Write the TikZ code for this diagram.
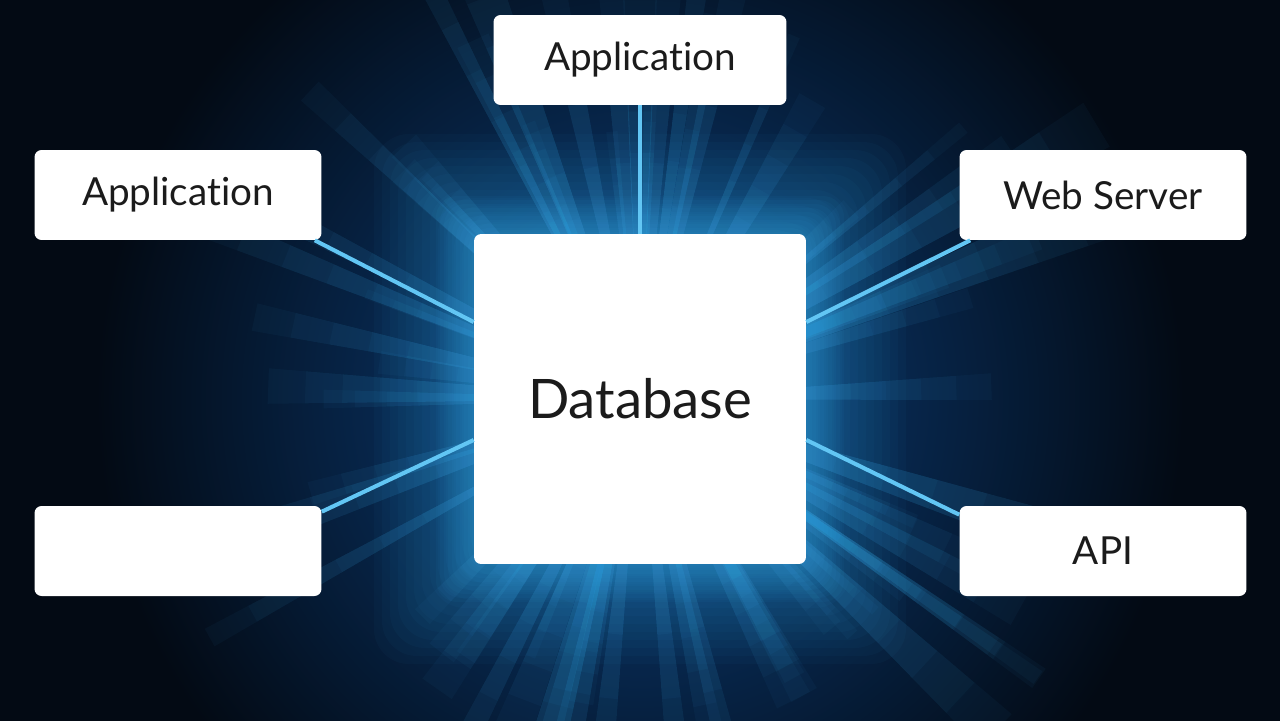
\documentclass[tikz,border=0pt]{standalone}
\usepackage{fontspec}
\setmainfont{Lato}[Ligatures=NoCommon]
\usetikzlibrary{positioning}

\definecolor{bgdark}{HTML}{030A14}
\definecolor{bgblue}{HTML}{0B4486}
\definecolor{raycol}{HTML}{3DB6F5}
\definecolor{linkcol}{HTML}{62C6F4}
\definecolor{txtcol}{HTML}{1B1B1B}
\pgfdeclareradialshading{bgglow}{\pgfpoint{0bp}{0bp}}{color(0bp)=(bgblue);
  color(7bp)=(bgblue!55!bgdark); color(17bp)=(bgdark); color(50bp)=(bgdark)}

\tikzset{
  card/.style={fill=white, rounded corners=4pt, text=txtcol, inner sep=0pt,
    minimum width=5.74cm, minimum height=1.8cm, font=\fontsize{22}{26}\selectfont},
  dbcard/.style={card, minimum width=6.64cm, minimum height=6.6cm,
    font=\fontsize{31}{36}\selectfont},
  link/.style={linkcol, line width=2.3pt},
}

\begin{document}
\begin{tikzpicture}[x=0.02cm, y=-0.02cm]
  \useasboundingbox (0,0) rectangle (1280,720);
  \fill[bgdark] (0,0) rectangle (1280,720);
  \begin{scope}
    \clip (0,0) rectangle (1280,720);
    \shade[shading=bgglow] (640,399) circle (800);
    % rays
    \pgfmathsetseed{11}
    \foreach \i in {1,...,60}{
      \pgfmathsetmacro\ang{random(0,359)}
      \pgfmathsetmacro\wid{0.8+2.4*rnd}
      \pgfmathsetmacro\len{260+280*rnd}
      \foreach \f in {1,.9,...,.3}
        \fill[raycol, opacity=.04] (640,399) -- +(\ang-\wid:\len*\f) -- +(\ang+\wid:\len*\f) -- cycle;
    }
    \foreach \ang in {76,84,96,105,258,266,274,283}
      \foreach \f in {1,.85,...,.3}
        \fill[raycol, opacity=.045] (640,399) -- +(\ang-1.8:430*\f) -- +(\ang+1.8:430*\f) -- cycle;
    % glow round the database
    \foreach \g in {4,12,...,100}
      \fill[raycol, opacity=.03, rounded corners=20pt] (474-\g,234-\g) rectangle (806+\g,564+\g);
    \foreach \g in {2,6,...,40}
      \fill[raycol, opacity=.045, rounded corners=12pt] (474-\g,234-\g) rectangle (806+\g,564+\g);
  \end{scope}

  \node[dbcard] (db) at (640,399) {Database};
  \node[card, minimum width=5.86cm] (apptop) at (640,60) {Application};
  \node[card] (appleft) at (178,195) {Application};
  \node[card] (web) at (1103,195) {Web Server};
  \node[card] (blank) at (178,551) {};
  \node[card] (api) at (1103,551) {API};

  \draw[link] (apptop.south) -- (db.north);
  \draw[link] ([xshift=-0.14cm]appleft.south east) -- ([yshift=1.54cm]db.west);
  \draw[link] ([xshift=0.22cm]web.south west) -- ([yshift=1.54cm]db.east);
  \draw[link] ([yshift=-0.12cm]blank.north east) -- ([yshift=-0.82cm]db.west);
  \draw[link] ([yshift=-0.18cm]api.north west) -- ([yshift=-0.82cm]db.east);
\end{tikzpicture}
\end{document}
